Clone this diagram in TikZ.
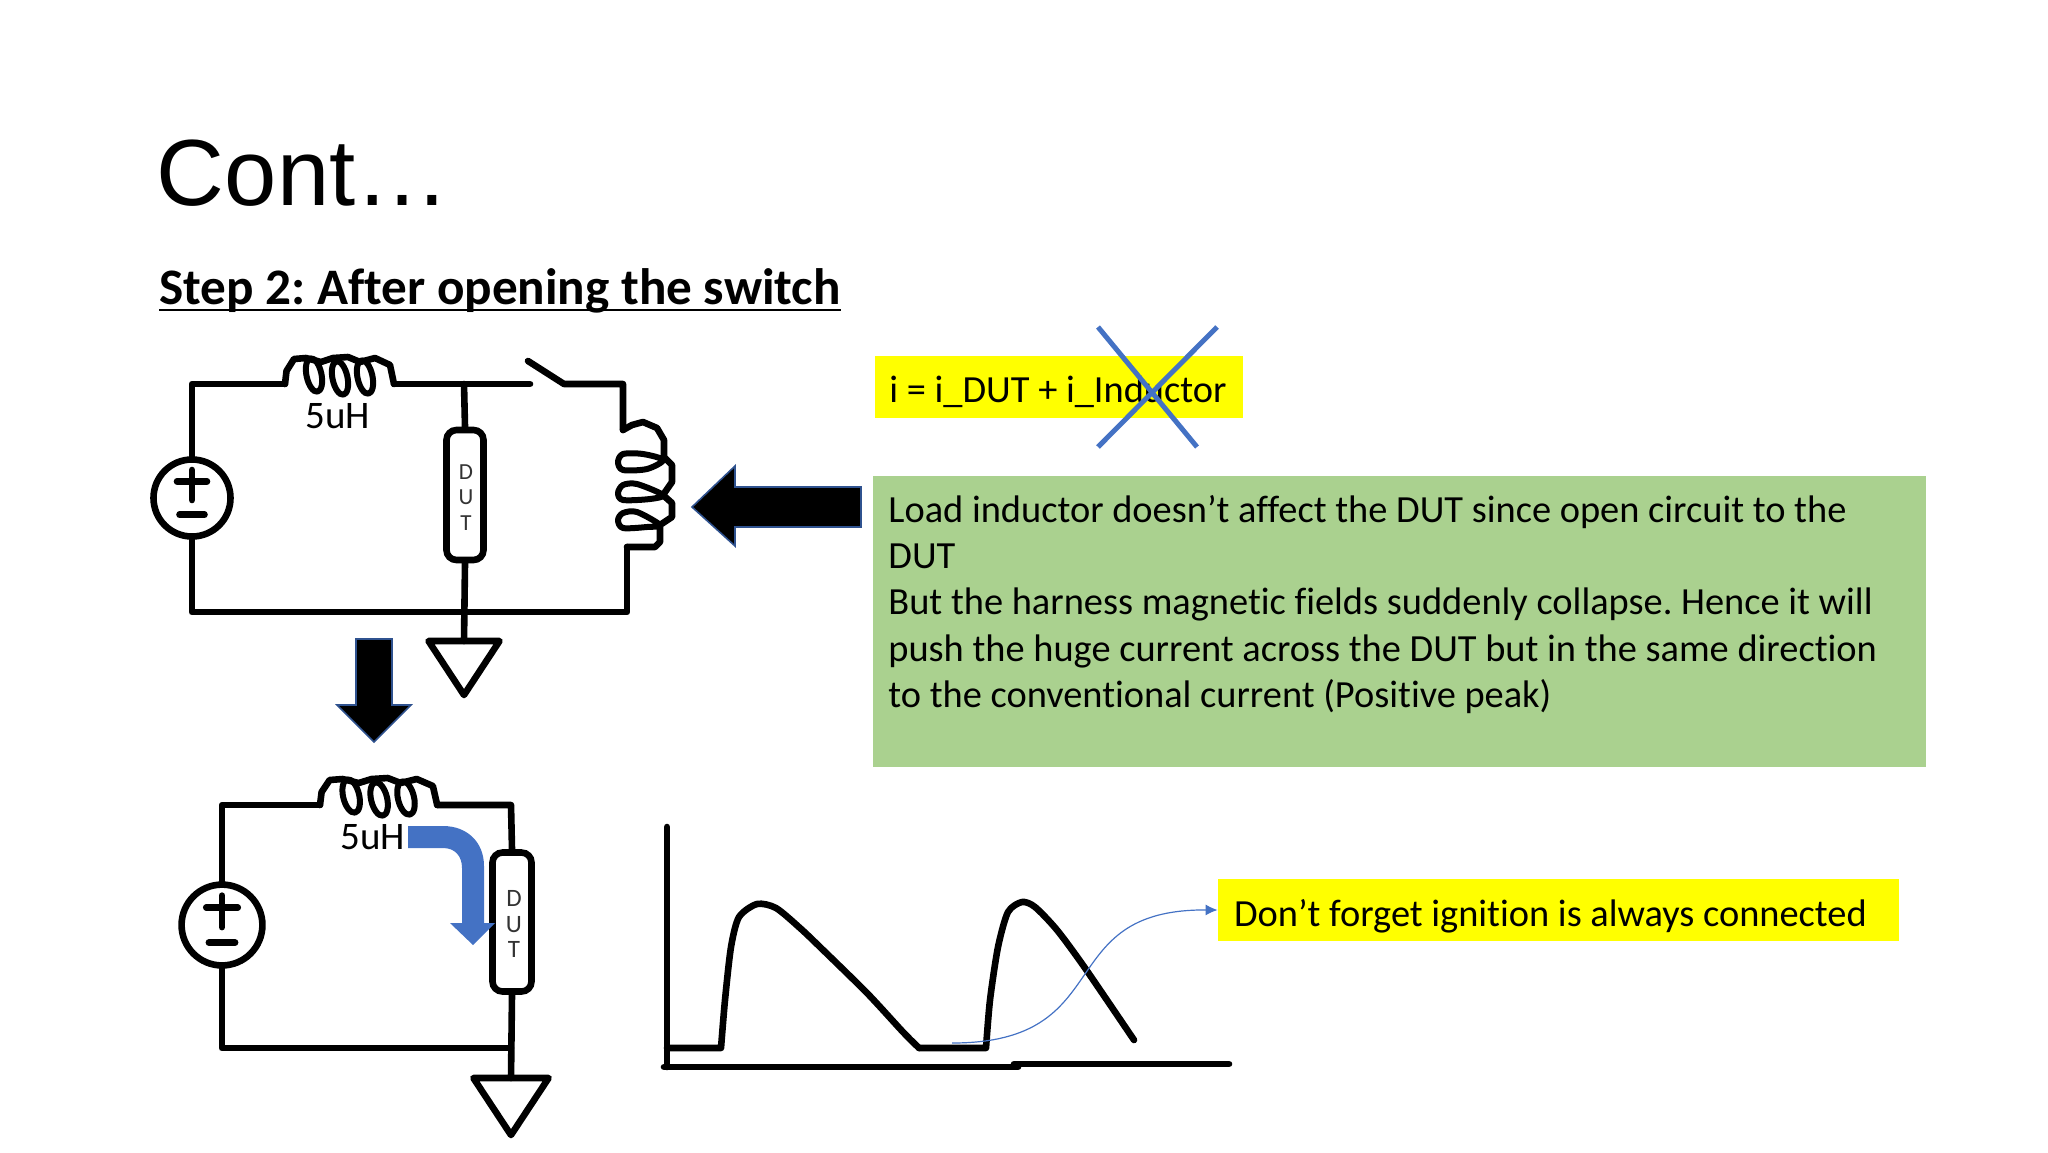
\documentclass[tikz,border=0pt]{standalone}
\usepackage{fontspec}
\setmainfont{Carlito}[Ligatures=CommonOff]
\newfontfamily\titlefont{Liberation Sans}
\usetikzlibrary{arrows.meta}
\definecolor{slideblue}{HTML}{4472C4}
\definecolor{edgeblue}{HTML}{2F528F}
\definecolor{notegreen}{HTML}{AAD18F}
\definecolor{marker}{HTML}{FFFF00}
\newcommand{\thickul}[1]{\setbox0\hbox{#1}\rlap{\rule[-3.4pt]{\wd0}{1.4pt}}\box0}
\tikzset{
    wire/.style={line width=3.3pt, line cap=round, line join=round},
    thinwire/.style={line width=3pt, line cap=round, line join=round},
    dutbox/.style={draw, line width=3.3pt, rounded corners=5pt, inner sep=0pt},
    dutmark/.style={align=center, inner sep=0pt, text=black!80, font=\fontsize{#1}{12.6}\selectfont},
    coilval/.style={font=\fontsize{19.5}{22}\selectfont, inner sep=0pt},
    bigarrow/.style={fill=black, draw=edgeblue, line width=0.8pt, line join=miter},
    marked/.style={fill=marker, inner sep=0pt, font=\fontsize{19.2}{23}\selectfont},
    pics/coil/.style={code={
        \coordinate (-in) at (0,0);
        \coordinate (-out) at (109,0);
        \draw[wire] (-in) -- (1.5,-13) -- (9,-25) -- (21,-26) -- (36,-22) -- (48,-26) -- (63,-27)
            -- (75,-22) -- (90,-26) -- (105,-19) -- (-out);
        \foreach \px/\py in {29/-9, 55/-6, 80/-7}
            \draw[thinwire] (\px,\py) ellipse [x radius=7.5, y radius=17, rotate=12];
    }},
    pics/source/.style={code={
        \node[draw, circle, line width=3.3pt, minimum size=38.5pt, inner sep=0pt, transform shape] (-c) at (0,0) {};
        \draw[wire] (-15,-16.7) -- (15,-16.7);
        \draw[wire] (0,-28) -- (0,2);
        \draw[wire] (-12.5,16.7) -- (12.5,16.7);
    }},
    pics/earth/.style={code={
        \coordinate (-top) at (0,0);
        \draw[wire] (-35.5,0) -- (35.5,0) -- (0,#1) -- cycle;
    }}
}
\begin{document}
\frenchspacing
\begin{tikzpicture}[x=0.5pt, y=-0.5pt, >=stealth]
    \useasboundingbox (0,0) rectangle (2048,1152);
    \node[font=\titlefont\fontsize{47}{56}\selectfont, anchor=base west, inner sep=0pt] (title) at (156.5,205) {Cont…};
    \node[font=\fontsize{25.6}{30}\selectfont\bfseries, anchor=base west, inner sep=0pt] (stepline) at (159,304.5) {\thickul{Step 2: After opening the switch}};
    % upper circuit
    \pic (srca) at (192,498) {source};
    \pic (coila) at (285,384) {coil};
    \node[coilval] (vala) at (338,416) {5uH};
    \node[dutbox, minimum width=18.5pt, minimum height=65pt] (duta) at (465,495) {};
    \node[dutmark=11.5] (marka) at (466,497.5) {D\\U\\T};
    \pic (gnda) at (464,641) {earth=54};
    \coordinate (tla) at (192,384);
    \coordinate (bla) at (192,612);
    \coordinate (tja) at (464,384);
    \coordinate (bja) at (464,612);
    \coordinate (swa) at (530,384);
    \coordinate (swb) at (564,384);
    \coordinate (swtip) at (528,361);
    \coordinate (tra) at (623,384);
    \coordinate (lca) at (623,430);
    \coordinate (lcb) at (627,547);
    \coordinate (bra) at (627,612);
    \draw[wire] (srca-c.north) -- (tla) -- (coila-in);
    \draw[wire] (coila-out) -- (swa);
    \draw[wire] (swtip) -- (swb) -- (tra) -- (lca);
    \draw[wire] (tja) -- (duta.north);
    \draw[wire] (duta.south) -- (gnda-top);
    \draw[wire] (srca-c.south) -- (bla) -- (bra) -- (lcb);
    % load inductor
    \draw[wire] (lca) -- (632,425) -- (643,422) -- (657,428) -- (664,440) -- (664,457) -- (672,465) -- (672,482)
        -- (663,495) -- (672,503) -- (672,517) -- (660,525) -- (660,542) -- (655,547) -- (lcb);
    \draw[thinwire] plot[smooth cycle, tension=0.5] coordinates {(663,460) (643,454) (623,454) (618,462) (623,470) (647,469)};
    \draw[thinwire] plot[smooth cycle, tension=0.5] coordinates {(663,495) (637,484) (623,485) (618,493) (623,500) (650,499)};
    \draw[thinwire] plot[smooth cycle, tension=0.5] coordinates {(660,525) (637,512) (623,513) (618,520) (623,528) (647,527)};
    % lower circuit
    \pic[scale=1.05] (srcb) at (222,925) {source};
    \pic[xscale=1.075] (coilb) at (320,805) {coil};
    \node[coilval] (valb) at (373,837) {5uH};
    \node[dutbox, minimum width=19.5pt, minimum height=69.5pt] (dutb) at (512,922) {};
    \node[dutmark=12.5] (markb) at (514,924) {D\\U\\T};
    \pic[xscale=1.06] (gndb) at (511,1078) {earth=57};
    \coordinate (tlb) at (222,805);
    \coordinate (trb) at (511,805);
    \coordinate (blb) at (222,1048);
    \coordinate (brb) at (511,1048);
    \draw[wire] (srcb-c.north) -- (tlb) -- (coilb-in);
    \draw[wire] (coilb-out) -- (trb) -- (dutb.north);
    \draw[wire] (dutb.south) -- (gndb-top);
    \draw[wire] (srcb-c.south) -- (blb) -- (brb);
    \fill[slideblue] (408,826) -- (443,826) .. controls (467,826) and (484,842) .. (484,866) -- (484,923) -- (495,923)
        -- (473,945) -- (450,923) -- (462,923) -- (462,868) .. controls (462,856) and (455,848) .. (443,848) -- (408,848) -- cycle;
    % block arrows
    \draw[bigarrow] (356,639) -- (392,639) -- (392,705) -- (411,705) -- (374,742) -- (337,705) -- (356,705) -- cycle;
    \draw[bigarrow] (861,487) -- (735,487) -- (735,466) -- (692,507) -- (735,546) -- (735,527) -- (861,527) -- cycle;
    % text boxes
    \node[marked, minimum width=184pt, minimum height=31pt] (sumbox) at (1059,387)
        {\makebox[169.6pt][l]{\raisebox{-7.5pt}[0pt][0pt]{i = i\_DUT + i\_Inductor}}};
    \draw[slideblue, line width=2.5pt] (1098,327) -- (1197,447);
    \draw[slideblue, line width=2.5pt] (1217,327) -- (1098,447);
    \fill[notegreen] (873,476) rectangle (1926,767);
    \node[anchor=north west, inner sep=0pt, align=left, font=\fontsize{19.2}{23.1}\selectfont] (note) at (888,495)
        {Load inductor doesn’t affect the DUT since open circuit to the\\DUT\\But the harness magnetic fields suddenly collapse. Hence it will\\push the huge current across the DUT but in the same direction\\to the conventional current (Positive peak)};
    \node[marked, minimum width=340.5pt, minimum height=31pt] (ignbox) at (1558.5,910)
        {\makebox[324.5pt][l]{\raisebox{-8pt}[0pt][0pt]{Don’t forget ignition is always connected}}};
    % current pulses
    \coordinate (ytop) at (667,827);
    \coordinate (yend) at (667,1067);
    \coordinate (xend) at (1018,1067);
    \coordinate (xendb) at (1014,1064);
    \coordinate (xfar) at (1229,1064);
    \draw[wire] (ytop) -- (yend);
    \draw[wire] (664,1067) -- (xend);
    \draw[wire] (xendb) -- (xfar);
    \draw[wire] (667,1048) -- (721,1048) plot[smooth, tension=0.45] coordinates {(721,1048) (725,1000) (731,947) (739,917) (757,904) (776,908) (800,928) (820,947) (867,993) (903,1032) (919,1048)};
    \draw[wire] (919,1048) -- (986,1048) plot[smooth, tension=0.45] coordinates {(986,1048) (990,1000) (998,947) (1008,912) (1022,902) (1035,907) (1057,930) (1085,968) (1134,1040)};
    \coordinate (pulsept) at (952,1043);
    \draw[slideblue, line width=0.6pt, -{Latex[length=6pt, width=5.5pt]}] (pulsept) .. controls (1120,1043) and (1050,909) .. (ignbox.west);
\end{tikzpicture}
\end{document}
